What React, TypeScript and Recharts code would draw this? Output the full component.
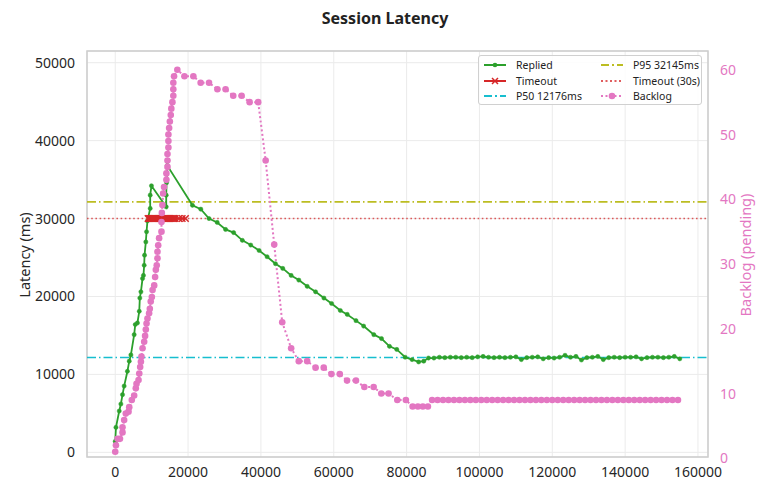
import { ComposedChart, Line, XAxis, YAxis, CartesianGrid, ReferenceLine, ReferenceArea, Legend } from 'recharts';

const FONT = '"Noto Sans", "DejaVu Sans", sans-serif';

const GREEN = '#2ca02c';
const RED = '#d62728';
const PINK = '#e377c2';
const CYAN = '#17becf';
const OLIVE = '#bcbd22';

// Replied latency (ms) by request time
const repliedX = [
  0, 200, 1100, 1550, 2000, 2450, 3350, 3850, 4300, 5200, 5500, 6100, 6600, 6750, 7050, 7500, 7750, 7950, 8050,
  8400, 8600, 8850, 9600, 9600, 9950, 14000, 14000, 14100, 14300, 21200, 23500, 25750, 28000, 30300, 32500,
  34900, 37200, 39500, 41700, 44000, 46000, 48300, 50400, 52700, 55000, 57300, 59400, 61800, 63700, 66100,
  68200, 71000, 73100, 75300, 77300, 79600, 81500, 83300, 84700, 86000,
  87500, 89000, 90500, 92000, 93500, 95000, 96500, 98000, 99500, 101000, 102500, 104000, 105500, 107000,
  108500, 110000, 111500, 113000, 114500, 116000, 117500, 119000, 120500, 122000, 123500, 125000, 126500,
  128000, 129500, 131000, 132500, 134000, 135500, 137000, 138500, 140000, 141500, 143000, 144500, 146000,
  147500, 149000, 150500, 152000, 153500, 155000,
];
const repliedY = [
  1400, 3200, 5300, 6200, 7400, 8500, 10400, 11700, 12500, 15100, 16400, 16600, 18100, 19800, 20600, 22300,
  22700, 24000, 25300, 27000, 28300, 29700, 31300, 33000, 34200, 31500, 33000, 34600, 36800, 31700, 31200,
  30000, 29500, 28600, 28200, 27200, 26600, 25900, 25100, 24200, 23600, 22700, 22100, 21300, 20600, 19800,
  19100, 18200, 17700, 16900, 16200, 15100, 14600, 13600, 13200, 12200, 11900, 11600, 11700, 12100,
  12100, 12200, 12150, 12200, 12200, 12150, 12200, 12150, 12250, 12300, 12200, 12150, 12200, 12150, 12200,
  12250, 11900, 12150, 12200, 12250, 12000, 12150, 12100, 12200, 12450, 12200, 12300, 11850, 12150, 12200,
  12300, 11900, 12150, 12200, 12150, 12200, 12200, 12250, 12000, 12150, 12200, 12200, 12150, 12200, 12300,
  12000,
];

// Timed-out requests, all pinned at the 30s limit
const timeoutX = [
  9000, 9300, 9600, 9900, 10200, 10500, 10800, 11100, 11400, 11700, 12000, 12300, 12600, 12900, 13200,
  13500, 13800, 14100, 14400, 14700, 15000, 15300, 15600, 15900, 16200, 16500, 17500, 18400, 19300,
];
const timeoutY = [
  30000, 30000, 30000, 30000, 30000, 30000, 30000, 30000, 30000, 30000, 30000, 30000, 30000, 30000, 30000,
  30000, 30000, 30000, 30000, 30000, 30000, 30000, 30000, 30000, 30000, 30000, 30000, 30000, 30000,
];

// Pending backlog
const backlogX = [
  0, 200, 650, 1300, 2000, 2000, 2450, 2900, 3650, 3850, 4550, 5200, 5650, 5850, 6400, 6600, 6850, 7050, 7200,
  7500, 7950, 8200, 8400, 8600, 8850, 9300, 9500, 9750, 10050, 10250, 10700, 10950, 11150, 11400, 11600,
  11600, 11800, 12050, 12700, 12700, 12800, 12950, 13150, 13400, 14050, 14050, 14350, 14350, 14350, 14600,
  14600, 14600, 14800, 15000, 15250, 15400, 15700, 15950, 15950, 15950, 16150, 17050, 19000, 21450, 23450,
  25750, 28050, 30300, 32400, 34700, 36900, 39250, 41300, 43650, 45850, 48300, 50400, 52700, 55000, 57250,
  59350, 61650, 63650, 66100, 68400, 70950, 73050, 75050, 77450, 79800, 81650, 83100, 84450, 85850,
  87000, 88500, 90000, 91500, 93000, 94500, 96000, 97500, 99000, 100500, 102000, 103500, 105000, 106500,
  108000, 109500, 111000, 112500, 114000, 115500, 117000, 118500, 120000, 121500, 123000, 124500, 126000,
  127500, 129000, 130500, 132000, 133500, 135000, 136500, 138000, 139500, 141000, 142500, 144000, 145500,
  147000, 148500, 150000, 151500, 153000, 154500,
];
const backlogY = [
  1, 2, 3, 3, 4, 4.8, 5.9, 6.9, 7.2, 7.9, 9, 9.7, 10.8, 11.5, 12.1, 13.1, 14.1, 14.9, 15.7, 17, 18, 18.9, 19.9,
  20.8, 21.6, 22.4, 23.1, 24.2, 24.9, 26, 26.7, 28, 29.1, 29.8, 30.9, 31.9, 32.9, 34, 35, 36.5, 37.9, 39.1,
  40.9, 41.9, 43, 44, 45, 46, 47, 48, 49, 50, 51, 52, 53, 54, 55, 56, 57, 58, 59, 60, 59, 59, 58, 58, 57, 57,
  56, 56, 55, 55, 46, 33, 21, 17, 15, 15, 14, 14, 13, 13, 12, 12, 11, 11, 10, 10, 9, 9, 8, 8, 8, 8,
  9, 9, 9, 9, 9, 9, 9, 9, 9, 9, 9, 9, 9, 9, 9, 9, 9, 9, 9, 9, 9, 9, 9, 9, 9, 9, 9, 9, 9, 9, 9, 9, 9, 9, 9, 9,
  9, 9, 9, 9, 9, 9, 9, 9, 9, 9,
];

const xTicks = [0, 20000, 40000, 60000, 80000, 100000, 120000, 140000, 160000];
const latencyTicks = [0, 10000, 20000, 30000, 40000, 50000];
const backlogTicks = [0, 10, 20, 30, 40, 50, 60];

const P50 = 12176;
const P95 = 32145;
const TIMEOUT_MS = 30000;

const replied = repliedX.map((x, i) => ({ x, latency: repliedY[i] }));
const timeouts = timeoutX.map((x, i) => ({ x, latency: timeoutY[i] }));
const backlog = backlogX.map((x, i) => ({ x, pending: backlogY[i] }));

const X_DOMAIN = [-7750, 162750];
const Y_DOMAIN = [-600, 51500];

function CrossDot(props: any) {
  const { cx, cy } = props;
  if (cx == null || cy == null) return <g key={props.index} />;
  const s = 3.2;
  return (
    <path
      key={props.index}
      d={`M${cx - s},${cy - s}L${cx + s},${cy + s}M${cx - s},${cy + s}L${cx + s},${cy - s}`}
      stroke={RED}
      strokeWidth={1.5}
    />
  );
}

function LegendIcon({ kind }: { kind: string }) {
  return (
    <svg width={24} height={10} style={{ display: 'block' }}>
      {kind === 'replied' && (
        <>
          <line x1={1} y1={5} x2={23} y2={5} stroke={GREEN} strokeWidth={2} />
          <circle cx={12} cy={5} r={2.3} fill={GREEN} />
        </>
      )}
      {kind === 'timeout' && (
        <>
          <line x1={1} y1={5} x2={23} y2={5} stroke={RED} strokeWidth={2} />
          <path d="M9,2L15,8M9,8L15,2" stroke={RED} strokeWidth={1.5} />
        </>
      )}
      {kind === 'p50' && <line x1={1} y1={5} x2={23} y2={5} stroke={CYAN} strokeWidth={1.8} strokeDasharray="8 3 2 3" />}
      {kind === 'p95' && <line x1={1} y1={5} x2={23} y2={5} stroke={OLIVE} strokeWidth={1.8} strokeDasharray="8 3 2 3" />}
      {kind === 'limit' && <line x1={1} y1={5} x2={23} y2={5} stroke={RED} strokeOpacity={0.75} strokeWidth={1.8} strokeDasharray="2 2.5" />}
      {kind === 'backlog' && (
        <>
          <line x1={1} y1={5} x2={23} y2={5} stroke={PINK} strokeWidth={2} strokeDasharray="2 2.5" />
          <circle cx={12} cy={5} r={3.3} fill={PINK} />
        </>
      )}
    </svg>
  );
}

const legendCol1 = [
  { kind: 'replied', label: 'Replied' },
  { kind: 'timeout', label: 'Timeout' },
  { kind: 'p50', label: `P50 ${P50}ms` },
];
const legendCol2 = [
  { kind: 'p95', label: `P95 ${P95}ms` },
  { kind: 'limit', label: 'Timeout (30s)' },
  { kind: 'backlog', label: 'Backlog' },
];

function LegendBox() {
  const col = (items: typeof legendCol1, width: number) => (
    <div style={{ width }}>
      {items.map((it) => (
        <div key={it.label} style={{ display: 'flex', alignItems: 'center', height: 15.8 }}>
          <LegendIcon kind={it.kind} />
          <span style={{ marginLeft: 9, color: '#222' }}>{it.label}</span>
        </div>
      ))}
    </div>
  );
  return (
    <div
      style={{
        display: 'flex',
        boxSizing: 'border-box',
        width: 224,
        height: 50,
        padding: '1px 0 0 4px',
        border: '1px solid #d0d0d0',
        borderRadius: 3,
        background: 'rgba(255,255,255,0.85)',
        fontFamily: FONT,
        fontSize: 10.5,
      }}
    >
      {col(legendCol1, 117)}
      {col(legendCol2, 100)}
    </div>
  );
}

export default function App() {
  return (
    <div style={{ position: 'absolute', left: 0, top: 0, width: 770, height: 495, background: '#fff', fontFamily: FONT }}>
      <div
        style={{
          position: 'absolute',
          top: 6,
          left: 0,
          width: 770,
          textAlign: 'center',
          fontSize: 16,
          fontWeight: 700,
          color: '#222',
          lineHeight: '24px',
        }}
      >
        Session Latency
      </div>
      <ComposedChart width={770} height={495} margin={{ top: 51, right: 0, bottom: 0, left: 0 }}>
        <CartesianGrid yAxisId="left" stroke="#ebebeb" strokeWidth={1} />
        <XAxis
          dataKey="x"
          type="number"
          domain={X_DOMAIN}
          ticks={xTicks}
          allowDataOverflow
          height={38}
          tickLine={false}
          axisLine={false}
          tickMargin={4}
          tick={{ fill: '#262626', fontSize: 14, fontFamily: FONT }}
        />
        <YAxis
          yAxisId="left"
          type="number"
          domain={Y_DOMAIN}
          ticks={latencyTicks}
          allowDataOverflow
          width={87}
          tickLine={false}
          axisLine={false}
          tickMargin={6}
          tick={{ fill: '#262626', fontSize: 14, fontFamily: FONT }}
          label={() => (
            <text x={24} y={255} transform="rotate(-90 24 255)" textAnchor="middle" dominantBaseline="central" fill="#262626" fontSize={14.5} fontFamily={FONT}>
              Latency (ms)
            </text>
          )}
        />
        <YAxis
          yAxisId="right"
          orientation="right"
          type="number"
          domain={[0.2, 62.9]}
          ticks={backlogTicks}
          allowDataOverflow
          width={62}
          tickLine={false}
          axisLine={false}
          tickMargin={6}
          tick={{ fill: PINK, fontSize: 14, fontFamily: FONT }}
          label={() => (
            <text x={745} y={255} transform="rotate(-90 745 255)" textAnchor="middle" dominantBaseline="central" fill={PINK} fontSize={14.5} fontFamily={FONT}>
              Backlog (pending)
            </text>
          )}
        />
        <ReferenceLine yAxisId="left" y={P95} stroke={OLIVE} strokeWidth={1.6} strokeDasharray="9 3 1.5 3" />
        <ReferenceLine yAxisId="left" y={TIMEOUT_MS} stroke={RED} strokeOpacity={0.75} strokeWidth={1.6} strokeDasharray="1.6 2.6" />
        <ReferenceLine yAxisId="left" y={P50} stroke={CYAN} strokeWidth={1.6} strokeDasharray="9 3 1.5 3" />
        <Line
          data={replied}
          yAxisId="left"
          dataKey="latency"
          name="Replied"
          stroke={GREEN}
          strokeWidth={1.8}
          dot={{ r: 2.1, fill: GREEN, stroke: GREEN, strokeWidth: 0.5 }}
          activeDot={false}
          isAnimationActive={false}
        />
        <Line
          data={timeouts}
          yAxisId="left"
          dataKey="latency"
          name="Timeout"
          stroke={RED}
          strokeWidth={1.5}
          dot={(p: any) => <CrossDot key={p.index} {...p} />}
          activeDot={false}
          isAnimationActive={false}
        />
        <Line
          data={backlog}
          yAxisId="right"
          dataKey="pending"
          name="Backlog"
          stroke={PINK}
          strokeWidth={2}
          strokeDasharray="2 2.5"
          dot={{ r: 3.3, fill: PINK, stroke: 'none' }}
          activeDot={false}
          isAnimationActive={false}
        />
        <ReferenceArea
          yAxisId="left"
          x1={X_DOMAIN[0]}
          x2={X_DOMAIN[1]}
          y1={Y_DOMAIN[0]}
          y2={Y_DOMAIN[1]}
          fill="none"
          fillOpacity={0}
          stroke="#cccccc"
          strokeWidth={1.5}
          ifOverflow="visible"
        />
        <Legend
          verticalAlign="middle"
          align="center"
          layout="horizontal"
          wrapperStyle={{ position: 'absolute', top: 55, left: 478, width: 224, height: 50 }}
          content={() => <LegendBox />}
        />
      </ComposedChart>
    </div>
  );
}
